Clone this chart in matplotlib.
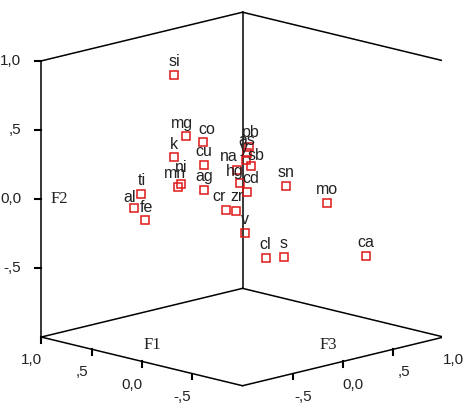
import numpy as np
import matplotlib
matplotlib.use("Agg")
import matplotlib.pyplot as plt
from mpl_toolkits.mplot3d import proj3d

# component loadings (depth F1+F3 assumed ~0)
names = ["si", "mg", "co", "k", "cu", "ni", "mn", "ag", "ti", "al", "fe",
         "pb", "as", "y", "sb", "na", "hg", "cd", "cr", "zr", "v",
         "sn", "mo", "cl", "s", "ca"]
px = [172, 184, 201, 172, 202, 179, 176, 202, 139, 132, 143,
      246, 244, 243, 248, 235, 237, 244, 224, 234, 242,
      283, 324, 263, 281, 363]
py = [77, 138, 144, 159, 167, 186, 189, 192, 196, 209, 221,
      149, 155, 162, 168, 172, 185, 194, 211, 212, 234,
      188, 204, 259, 258, 257]
F3 = [round((x - 240) / 200, 3) for x in px]
F1 = [-v for v in F3]
F2 = [round((337.5 - y) / 137 - 1, 3) for y in py]

ticks = [-0.5, 0.0, 0.5, 1.0]
tick_txt = ["-,5", "0,0", ",5", "1,0"]

# label offsets (pixels) relative to marker
lab_off = {"pb": (2, 7), "as": (0, 5), "y": (-2, 4), "sb": (5, 3), "na": (-9, 6),
           "hg": (-5, 4), "cd": (4, 6), "cr": (-7, 6), "zr": (1, 7), "v": (0, 6),
           "mn": (-3, 6), "ni": (0, 9), "ti": (1, 6), "al": (-4, 3), "fe": (2, 5),
           "mg": (-4, 5), "co": (4, 5), "k": (0, 5), "cu": (0, 6), "ag": (0, 6)}

fig = plt.figure(figsize=(4.74, 4.09), dpi=100)
ax = fig.add_axes([0, 0, 1, 1], projection="3d", proj_type="ortho")
ax.view_init(elev=14, azim=-135)
ax.set_box_aspect((1, 1, 1), zoom=1.17)
ax.set_xlim(-1, 1); ax.set_ylim(-1, 1); ax.set_zlim(-1, 1)
ax.set_axis_off()

# x = F3, y = F1, z = F2
edges = [((-1, 1, -1), (-1, 1, 1)), ((-1, 1, 1), (1, 1, 1)), ((1, 1, -1), (1, 1, 1)),
         ((1, 1, 1), (1, -1, 1)), ((1, -1, -1), (1, -1, 1)),
         ((-1, 1, -1), (1, 1, -1)), ((1, 1, -1), (1, -1, -1)),
         ((-1, 1, -1), (-1, -1, -1)), ((-1, -1, -1), (1, -1, -1))]
for a, b in edges:
    ax.plot([a[0], b[0]], [a[1], b[1]], [a[2], b[2]], color="black", lw=1.1)

tkw = dict(fontsize=11, family="Liberation Sans", color="#222222")
for t, s in zip(ticks, tick_txt):
    ax.text(-1.1, 1.1, t, s, ha="right", va="center", **tkw)
    ax.text(-1.1, t, -1.1, s, ha="center", va="top", **tkw)
    ax.text(t, -1.1, -1.1, s, ha="center", va="top", **tkw)
    ax.plot([-1, -1.03], [1, 1.03], [t, t], color="black", lw=1.5)
    ax.plot([-1, -1], [t, t], [-1, -1.04], color="black", lw=1.5)
    ax.plot([t, t], [-1, -1], [-1, -1.04], color="black", lw=1.5)

skw = dict(fontsize=12, family="Liberation Serif", color="#222222")
ax.text(-0.61, 0.29, -1, "F1", ha="center", va="center", **skw)
ax.text(0.27, -0.58, -1, "F3", ha="center", va="center", **skw)
ax.text(-0.82, 1, -0.03, "F2", ha="center", va="center", **skw)

ax.plot(F3, F1, F2, ls="none", marker="s", ms=5.5, mfc="none", mec="#e01818", mew=1.1)
for n, x, y, z in zip(names, F3, F1, F2):
    dx, dy = lab_off.get(n, (0, 6))
    x2, y2, _ = proj3d.proj_transform(x, y, z, ax.get_proj())
    ax.annotate(n, (x2, y2), xytext=(dx * 0.72, dy * 0.72), textcoords="offset points",
                ha="center", va="bottom", fontsize=11.5, family="Liberation Sans",
                color="#222222")

fig.savefig("out.png", dpi=100)
